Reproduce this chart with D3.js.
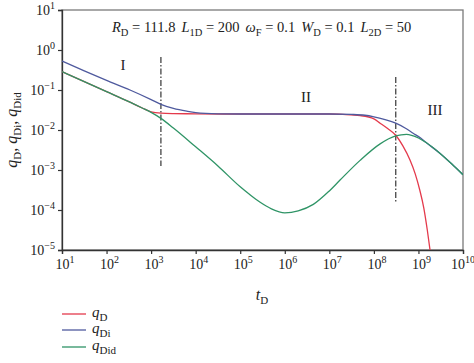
<!DOCTYPE html>
<html>
<head>
<meta charset="utf-8">
<script src="https://cdn.jsdelivr.net/npm/d3@7/dist/d3.min.js"></script>
<style>
  html, body { margin: 0; padding: 0; background: #fff; }
  svg { display: block; font-family: "Liberation Serif", "DejaVu Serif", serif; }
</style>
</head>
<body>
<svg id="chart" width="474" height="363"></svg>
<script>
// ---- data ----
const tD_q = [10, 31.6, 100, 316, 631, 1000, 1660, 3160, 1e4, 1e5, 1e6, 1e7, 2e7, 4.9e7, 1e8, 1.38e8, 2e8, 3.09e8, 4.47e8, 6.46e8, 8.5e8, 1.07e9, 1.32e9, 1.58e9, 1.82e9];
const qD   = [0.288, 0.162, 0.0912, 0.0513, 0.0355, 0.0285, 0.0263, 0.0257, 0.0254, 0.0251, 0.0251, 0.0251, 0.0245, 0.0229, 0.0190, 0.0148, 0.011, 0.0074, 0.0040, 0.00178, 7.9e-4, 3.16e-4, 1.12e-4, 3.16e-5, 1e-5];

const tD_qi = [10, 31.6, 100, 336, 1000, 1660, 3160, 6310, 1e4, 3.16e4, 1e5, 1e6, 1e7, 3.16e7, 6.31e7, 1e8, 1.78e8, 3.09e8, 5.01e8, 7.59e8, 1.12e9, 1.51e9, 3.02e9, 5.62e9, 1e10];
const qDi   = [0.53, 0.30, 0.174, 0.100, 0.0575, 0.0437, 0.0347, 0.0295, 0.0272, 0.0254, 0.0251, 0.0251, 0.0251, 0.0245, 0.0234, 0.0214, 0.0182, 0.0148, 0.0112, 0.0083, 0.0063, 0.00479, 0.00263, 0.00141, 7.6e-4];

const tD_qid = [10, 31.6, 100, 316, 631, 1000, 1660, 3160, 1e4, 3.16e4, 1e5, 1.66e5, 2.75e5, 5.01e5, 1e6, 2e6, 4.37e6, 1e7, 1.74e7, 4.9e7, 1.38e8, 3.09e8, 5.37e8, 1e9, 1.51e9, 3.02e9, 5.62e9, 1e10];
const qDid   = [0.288, 0.162, 0.0912, 0.0513, 0.0355, 0.0275, 0.0195, 0.0112, 0.0038, 0.00126, 3.8e-4, 2.4e-4, 1.58e-4, 1.07e-4, 8.5e-5, 9.5e-5, 1.38e-4, 3.0e-4, 5.6e-4, 1.74e-3, 4.5e-3, 7.1e-3, 7.8e-3, 6.3e-3, 4.79e-3, 2.63e-3, 1.41e-3, 7.6e-4];

const xTickExps = [1, 2, 3, 4, 5, 6, 7, 8, 9, 10];
const yTickExps = [1, 0, -1, -2, -3, -4, -5];

const dividerT = [1.66e3, 3.1e8];
const dividerQTop = [0.67, 0.211];
const dividerQBottom = [1.26e-3, 1.5e-4];

const regionLabels = ["I", "II", "III"];
const regionT = [234, 3.0e6, 2.34e9];
const regionQ = [0.316, 0.05, 0.0237];

const seriesNames = ["q_D", "q_Di", "q_Did"];
const seriesColors = ["#e43a4c", "#4f5a9e", "#2f9466"];

// ---- layout ----
const svg = d3.select("#chart");
const L = 62, T = 10, W = 401, H = 240;
const x = d3.scaleLog().domain([1e1, 1e10]).range([L, L + W]);
const y = d3.scaleLog().domain([1e-5, 1e1]).range([T + H, T]);

const supMinus = e => (e < 0 ? "\u2212" + Math.abs(e) : String(e));

// frame (top/right lighter)
svg.append("rect").attr("x", L).attr("y", T).attr("width", W).attr("height", H)
  .attr("fill", "none").attr("stroke", "#7a7a7a").attr("stroke-width", 1.3);

// axes
const xAxis = d3.axisBottom(x).tickValues(xTickExps.map(e => Math.pow(10, e))).tickSize(4).tickFormat("");
const yAxis = d3.axisLeft(y).tickValues(yTickExps.map(e => Math.pow(10, e))).tickSize(4).tickFormat("");
const gx = svg.append("g").attr("transform", `translate(0,${T + H})`).call(xAxis);
const gy = svg.append("g").attr("transform", `translate(${L},0)`).call(yAxis);
[gx, gy].forEach(g => {
  g.select(".domain").attr("stroke", "#333").attr("stroke-width", 1.3);
  g.selectAll(".tick line").attr("stroke", "#333").attr("stroke-width", 1.2);
});

// x tick labels
xTickExps.forEach((e, i) => {
  const last = i === xTickExps.length - 1;
  const t = svg.append("text").attr("x", x(Math.pow(10, e)) + (last ? 0 : 3)).attr("y", T + H + 19)
    .attr("text-anchor", "middle").attr("font-size", 14).attr("fill", "#222");
  t.append("tspan").text("10");
  t.append("tspan").attr("dy", -6).attr("font-size", 10).text(supMinus(e));
});
// y tick labels
yTickExps.forEach(e => {
  const t = svg.append("text").attr("x", 55).attr("y", y(Math.pow(10, e)) + 5)
    .attr("text-anchor", "end").attr("font-size", 14).attr("fill", "#222");
  t.append("tspan").text("10");
  t.append("tspan").attr("dy", -6).attr("font-size", 10).text(supMinus(e));
});

// axis titles
const xt = svg.append("text").attr("x", 262).attr("y", 300).attr("text-anchor", "middle")
  .attr("font-size", 16).attr("fill", "#222");
xt.append("tspan").attr("font-style", "italic").text("t");
xt.append("tspan").attr("dy", 4).attr("font-size", 11).text("D");

const yt = svg.append("text").attr("transform", `translate(17,${T + H / 2}) rotate(-90)`)
  .attr("text-anchor", "middle").attr("font-size", 16).attr("fill", "#222");
[["q", "D", ", "], ["q", "Di", ", "], ["q", "Did", ""]].forEach(([a, b, c]) => {
  yt.append("tspan").attr("font-style", "italic").attr("dy", 0).text(a);
  yt.append("tspan").attr("dy", 4).attr("font-size", 11).text(b);
  yt.append("tspan").attr("dy", -4).text(c);
});

// parameter annotation
const ann = svg.append("text").attr("x", 112).attr("y", 32).attr("font-size", 14.5).attr("fill", "#222");
const params = [["R", "D", " = 111.8"], ["L", "1D", " = 200"], ["\u03c9", "F", " = 0.1"], ["W", "D", " = 0.1"], ["L", "2D", " = 50"]];
params.forEach(([v, s, rest], i) => {
  ann.append("tspan").attr("font-style", "italic").attr("dx", i === 0 ? 0 : 6).text(v);
  ann.append("tspan").attr("dy", 4).attr("font-size", 10.5).text(s);
  ann.append("tspan").attr("dy", -4).text(rest);
});

// divider dash-dot lines
dividerT.forEach((t, i) => {
  svg.append("line").attr("x1", x(t)).attr("x2", x(t))
    .attr("y1", y(dividerQTop[i])).attr("y2", y(dividerQBottom[i]))
    .attr("stroke", "#222").attr("stroke-width", 1.1).attr("stroke-dasharray", "6,2,1.5,2");
});

// region labels
regionLabels.forEach((lab, i) => {
  svg.append("text").attr("x", x(regionT[i])).attr("y", y(regionQ[i]))
    .attr("text-anchor", "middle").attr("font-size", 15).attr("fill", "#222").text(lab);
});

// curves
const line = d3.line().x(d => x(d[0])).y(d => y(d[1])).curve(d3.curveMonotoneX);
const zip = (a, b) => a.map((v, i) => [v, b[i]]);
const series = [zip(tD_q, qD), zip(tD_qi, qDi), zip(tD_qid, qDid)];
svg.append("clipPath").attr("id", "clip").append("rect")
  .attr("x", L).attr("y", T).attr("width", W).attr("height", H);
series.forEach((s, i) => {
  svg.append("path").attr("d", line(s)).attr("fill", "none")
    .attr("stroke", seriesColors[i]).attr("stroke-width", 1.3)
    .attr("clip-path", "url(#clip)");
});

// legend
const legY = [314, 330, 347];
seriesNames.forEach((n, i) => {
  svg.append("line").attr("x1", 62).attr("x2", 86).attr("y1", legY[i]).attr("y2", legY[i])
    .attr("stroke", seriesColors[i]).attr("stroke-width", 1.3);
  const [v, sub] = n.split("_");
  const t = svg.append("text").attr("x", 92).attr("y", legY[i] + 3).attr("font-size", 15).attr("fill", "#222");
  t.append("tspan").attr("font-style", "italic").text(v);
  t.append("tspan").attr("dy", 4).attr("font-size", 11).text(sub);
});
</script>
</body>
</html>
